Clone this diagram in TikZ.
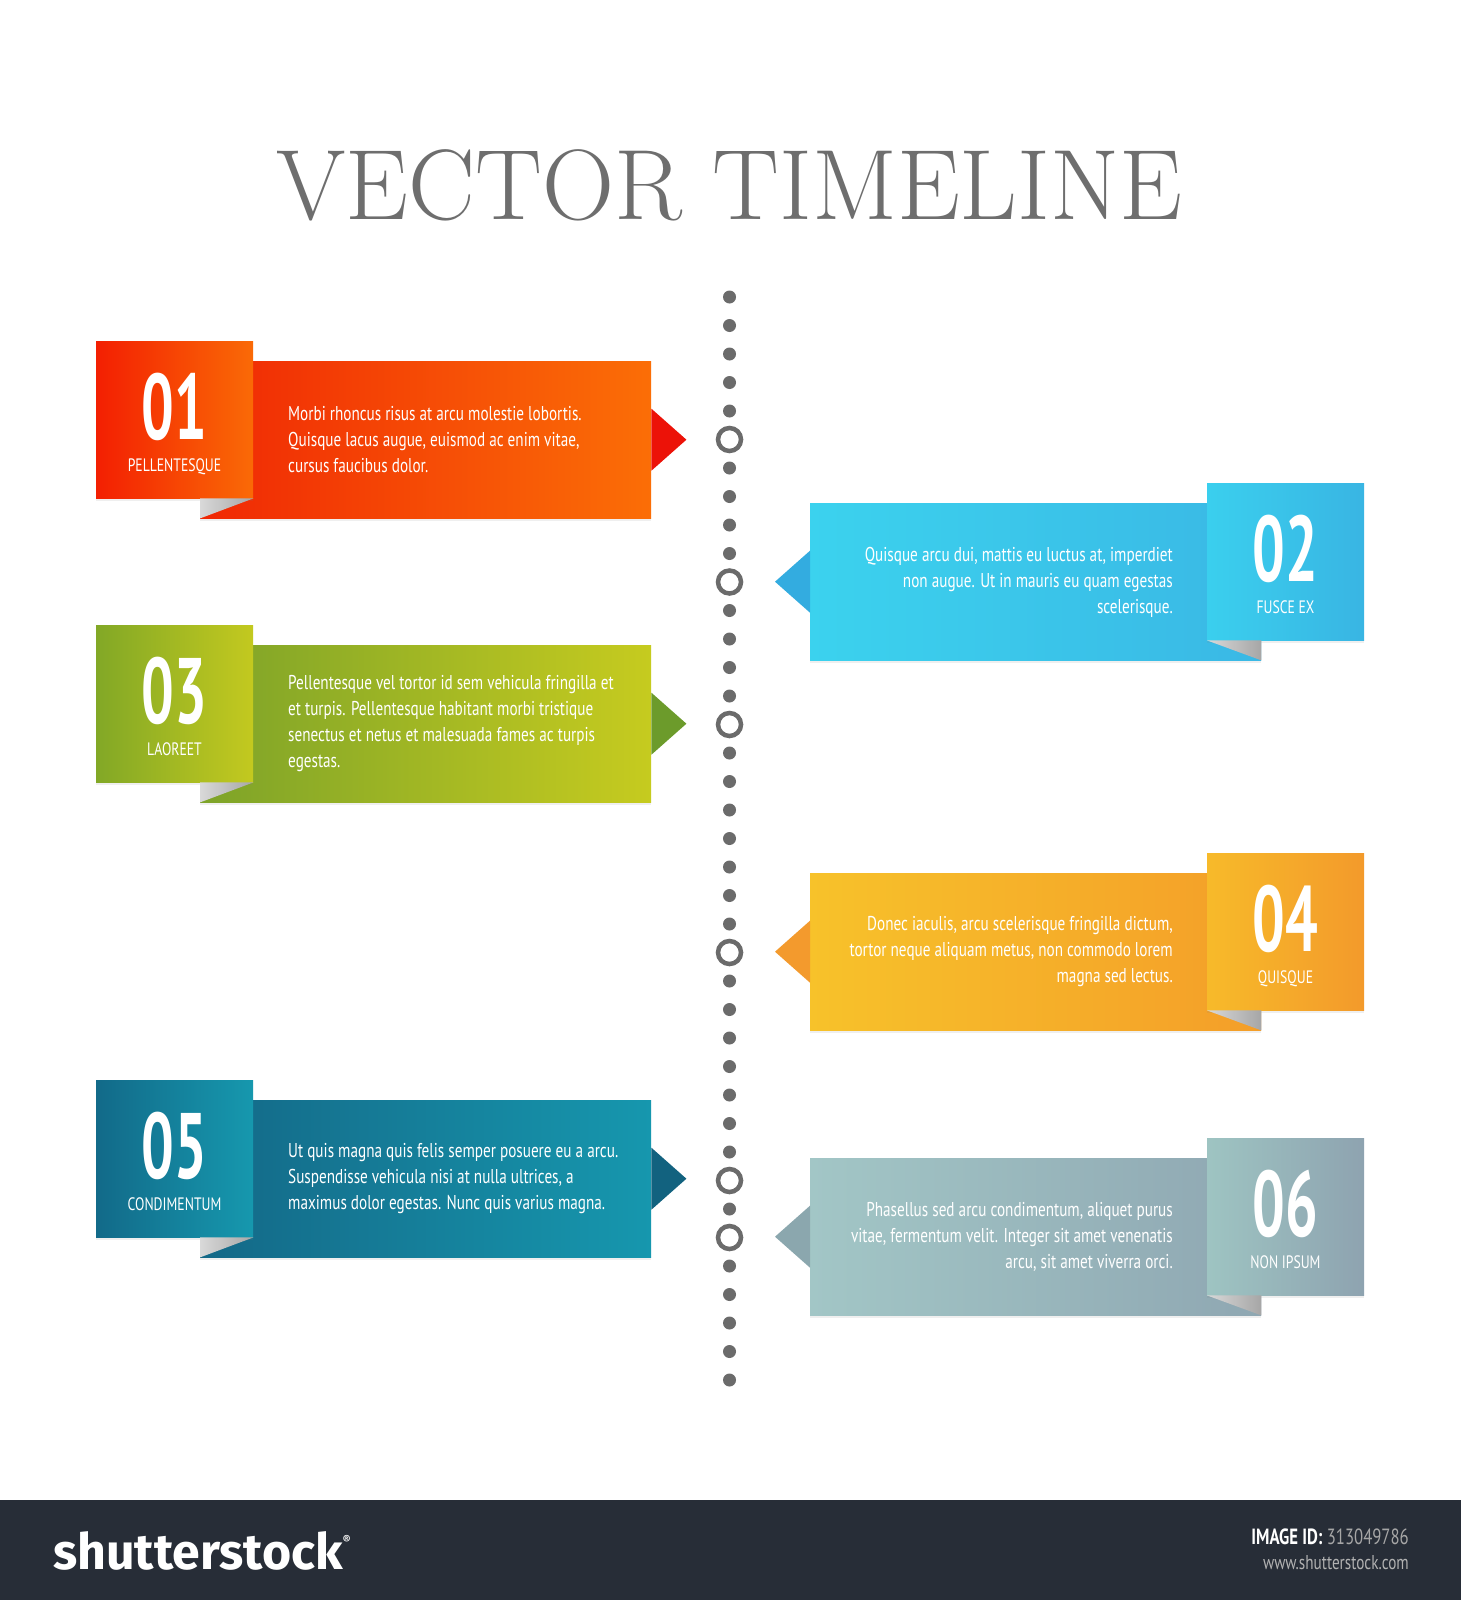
\documentclass[tikz,border=0pt]{standalone}
\usepackage{fontspec}
\usetikzlibrary{shadows}
\newfontfamily\bodyfont[FakeStretch=0.76]{PT Sans}
\newfontfamily\numfont[FakeStretch=0.62]{PT Sans}
\newfontfamily\logofont{Fira Sans}
\definecolor{titlegray}{HTML}{6E6E6E}
\definecolor{dotgray}{HTML}{6B6B6B}
\definecolor{footerbg}{HTML}{272D37}
\definecolor{redA}{HTML}{F31F02}\definecolor{redB}{HTML}{FA6A06}
\definecolor{redC}{HTML}{F02805}\definecolor{redD}{HTML}{FB6E06}\definecolor{redE}{HTML}{EC1208}
\definecolor{blueA}{HTML}{3ACFEE}\definecolor{blueB}{HTML}{39B5E3}
\definecolor{blueC}{HTML}{3BD2EE}\definecolor{blueD}{HTML}{3AB8E5}\definecolor{blueE}{HTML}{33ACE0}
\definecolor{greenA}{HTML}{82A826}\definecolor{greenB}{HTML}{C3C91F}
\definecolor{greenC}{HTML}{7DA329}\definecolor{greenD}{HTML}{C6CB1F}\definecolor{greenE}{HTML}{6C9B2B}
\definecolor{orangeA}{HTML}{F7BA2A}\definecolor{orangeB}{HTML}{F39A2B}
\definecolor{orangeC}{HTML}{F7C22A}\definecolor{orangeD}{HTML}{F49E29}\definecolor{orangeE}{HTML}{F39A2D}
\definecolor{tealA}{HTML}{126A89}\definecolor{tealB}{HTML}{1698AE}
\definecolor{tealC}{HTML}{146887}\definecolor{tealD}{HTML}{1697AE}\definecolor{tealE}{HTML}{12627F}
\definecolor{slateA}{HTML}{9EC4C2}\definecolor{slateB}{HTML}{8EA3B0}
\definecolor{slateC}{HTML}{A2C6C6}\definecolor{slateD}{HTML}{8FA7B2}\definecolor{slateE}{HTML}{8BA7AE}
\tikzstyle{banner}=[rectangle, inner sep=0pt, minimum width=451pt, minimum height=157pt,
                    drop shadow={opacity=0.12, shadow xshift=0pt, shadow yshift=-3pt}]
\tikzstyle{numbox}=[rectangle, inner sep=0pt, minimum size=157pt,
                    drop shadow={opacity=0.12, shadow xshift=0pt, shadow yshift=-3pt}]
\tikzstyle{fold}=[left color=gray!30, right color=gray!70]
\tikzstyle{bignum}=[inner sep=0pt, text depth=0pt, text=white, font=\numfont\bfseries\fontsize{93}{93}\selectfont]
\tikzstyle{numlabel}=[inner sep=0pt, text height=13pt, text=white, font=\bodyfont\fontsize{18}{18}\selectfont]
\tikzstyle{bodytext}=[inner sep=0pt, text=white, font=\bodyfont\fontsize{20}{26}\selectfont]
\tikzstyle{tldot}=[circle, fill=dotgray, inner sep=0pt, minimum size=13pt]
\tikzstyle{tlring}=[circle, draw=dotgray, fill=white, line width=4.5pt, inner sep=0pt, minimum size=23pt]
\tikzstyle{title}=[inner sep=0pt, text=titlegray, font=\fontsize{100}{100}\selectfont]

\begin{document}
\begin{tikzpicture}[x=1pt, y=-1pt]
  \useasboundingbox (0,0) rectangle (1461,1600);
  \fill[white] (0,0) rectangle (1461,1600);
  \node[title, anchor=base] (title) at (729.5,219) {VECTOR TIMELINE};

  \foreach \i in {0,...,38}
    \node[tldot] (dot\i) at (729.5,{297+28.5*\i}) {};
  \node[tlring] (ring01) at (729.5,439.5) {};
  \node[tlring] (ring02) at (729.5,582) {};
  \node[tlring] (ring03) at (729.5,724.5) {};
  \node[tlring] (ring04) at (729.5,952.5) {};
  \node[tlring] (ring05) at (729.5,1180.5) {};
  \node[tlring] (ring06) at (729.5,1237.5) {};

  \node[banner, left color=redC, right color=redD, anchor=north west] (bar01) at (200,361) {};
  \fill[redE] ([yshift=31pt]bar01.east) -- ([xshift=35pt]bar01.east) -- ([yshift=-31pt]bar01.east) -- cycle;
  \node[numbox, left color=redA, right color=redB, anchor=north west] (num01) at (96,341) {};
  \shade[fold] (bar01.south west) -- (num01.south east) -- (num01.south east -| bar01.west) -- cycle;
  \node[bignum, anchor=base] (big01) at (174.5,439) {01};
  \node[numlabel, anchor=base] (lab01) at (174.5,471) {PELLENTESQUE};
  \node[bodytext, align=left, anchor=west] (txt01) at (288,440)
    {Morbi rhoncus risus at arcu molestie lobortis.\\Quisque lacus augue, euismod ac enim vitae,\\cursus faucibus dolor.};

  \node[banner, left color=blueC, right color=blueD, anchor=north west] (bar02) at (810,503) {};
  \fill[blueE] ([yshift=31pt]bar02.west) -- ([xshift=-35pt]bar02.west) -- ([yshift=-31pt]bar02.west) -- cycle;
  \node[numbox, left color=blueA, right color=blueB, anchor=north west] (num02) at (1207,483) {};
  \shade[fold] (bar02.south east) -- (num02.south west) -- (num02.south west -| bar02.east) -- cycle;
  \node[bignum, anchor=base] (big02) at (1285.5,581) {02};
  \node[numlabel, anchor=base] (lab02) at (1285.5,613) {FUSCE EX};
  \node[bodytext, align=right, anchor=east] (txt02) at (1173,582)
    {Quisque arcu dui, mattis eu luctus at, imperdiet\\non augue. Ut in mauris eu quam egestas\\scelerisque.};

  \node[banner, left color=greenC, right color=greenD, anchor=north west] (bar03) at (200,645) {};
  \fill[greenE] ([yshift=31pt]bar03.east) -- ([xshift=35pt]bar03.east) -- ([yshift=-31pt]bar03.east) -- cycle;
  \node[numbox, left color=greenA, right color=greenB, anchor=north west] (num03) at (96,625) {};
  \shade[fold] (bar03.south west) -- (num03.south east) -- (num03.south east -| bar03.west) -- cycle;
  \node[bignum, anchor=base] (big03) at (174.5,723) {03};
  \node[numlabel, anchor=base] (lab03) at (174.5,755) {LAOREET};
  \node[bodytext, align=left, anchor=west] (txt03) at (288,724)
    {Pellentesque vel tortor id sem vehicula fringilla et\\et turpis. Pellentesque habitant morbi tristique\\senectus et netus et malesuada fames ac turpis\\egestas.};

  \node[banner, left color=orangeC, right color=orangeD, anchor=north west] (bar04) at (810,873) {};
  \fill[orangeE] ([yshift=31pt]bar04.west) -- ([xshift=-35pt]bar04.west) -- ([yshift=-31pt]bar04.west) -- cycle;
  \node[numbox, left color=orangeA, right color=orangeB, anchor=north west] (num04) at (1207,853) {};
  \shade[fold] (bar04.south east) -- (num04.south west) -- (num04.south west -| bar04.east) -- cycle;
  \node[bignum, anchor=base] (big04) at (1285.5,951) {04};
  \node[numlabel, anchor=base] (lab04) at (1285.5,983) {QUISQUE};
  \node[bodytext, align=right, anchor=east] (txt04) at (1173,952)
    {Donec iaculis, arcu scelerisque fringilla dictum,\\tortor neque aliquam metus, non commodo lorem\\magna sed lectus.};

  \node[banner, left color=tealC, right color=tealD, anchor=north west] (bar05) at (200,1100) {};
  \fill[tealE] ([yshift=31pt]bar05.east) -- ([xshift=35pt]bar05.east) -- ([yshift=-31pt]bar05.east) -- cycle;
  \node[numbox, left color=tealA, right color=tealB, anchor=north west] (num05) at (96,1080) {};
  \shade[fold] (bar05.south west) -- (num05.south east) -- (num05.south east -| bar05.west) -- cycle;
  \node[bignum, anchor=base] (big05) at (174.5,1178) {05};
  \node[numlabel, anchor=base] (lab05) at (174.5,1210) {CONDIMENTUM};
  \node[bodytext, align=left, anchor=west] (txt05) at (288,1179)
    {Ut quis magna quis felis semper posuere eu a arcu.\\Suspendisse vehicula nisi at nulla ultrices, a\\maximus dolor egestas. Nunc quis varius magna.};

  \node[banner, left color=slateC, right color=slateD, anchor=north west] (bar06) at (810,1158) {};
  \fill[slateE] ([yshift=31pt]bar06.west) -- ([xshift=-35pt]bar06.west) -- ([yshift=-31pt]bar06.west) -- cycle;
  \node[numbox, left color=slateA, right color=slateB, anchor=north west] (num06) at (1207,1138) {};
  \shade[fold] (bar06.south east) -- (num06.south west) -- (num06.south west -| bar06.east) -- cycle;
  \node[bignum, anchor=base] (big06) at (1285.5,1236) {06};
  \node[numlabel, anchor=base] (lab06) at (1285.5,1268) {NON IPSUM};
  \node[bodytext, align=right, anchor=east] (txt06) at (1173,1237)
    {Phasellus sed arcu condimentum, aliquet purus\\vitae, fermentum velit. Integer sit amet venenatis\\arcu, sit amet viverra orci.};

  \fill[footerbg] (0,1500) rectangle (1461,1600);
  \node[inner sep=0pt, text=white, anchor=west, font=\logofont\bfseries\fontsize{50}{50}\selectfont] (logo) at (53,1551)
    {shutterstock{\fontsize{12}{12}\selectfont\raisebox{25pt}{®}}};
  \node[inner sep=0pt, text=gray!70, anchor=base east, font=\bodyfont\fontsize{22}{22}\selectfont] (imgid) at (1409,1544)
    {\textcolor{white}{\bfseries IMAGE ID:} 313049786};
  \node[inner sep=0pt, text=gray!60, anchor=base east, font=\bodyfont\fontsize{20}{20}\selectfont] (site) at (1409,1569)
    {www.shutterstock.com};
\end{tikzpicture}
\end{document}
